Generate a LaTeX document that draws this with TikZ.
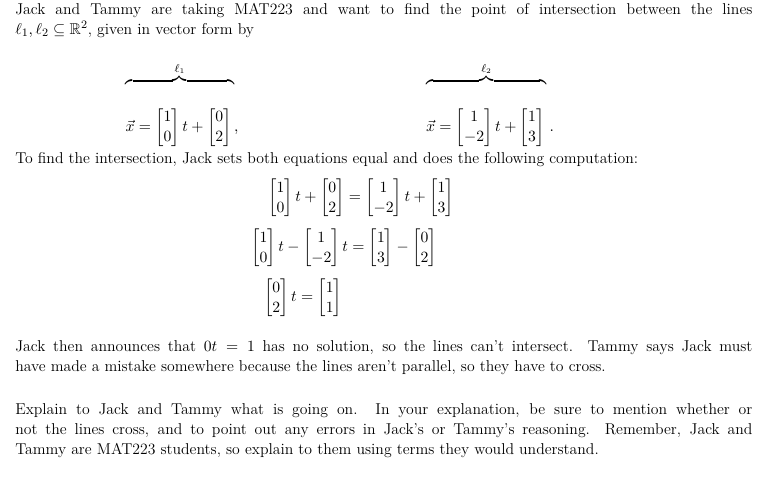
\documentclass[tikz,border=0pt]{standalone}
\usepackage{amsmath,amssymb}
\begin{document}
\begin{tikzpicture}[x=0.7pt,y=-0.7pt,
  para/.style={anchor=north west,text width=516pt,align=justify,inner sep=0pt,font=\fontsize{11}{14}\selectfont},
  eqn/.style={inner sep=0pt,font=\fontsize{11}{14}\selectfont}]
\useasboundingbox[fill=white] (0,0) rectangle (770,479);
\node[para] (p1) at (15,3) {Jack and Tammy are taking MAT223 and want to find the point of intersection between the lines\linebreak $\ell_1,\ell_2\subseteq\mathbb{R}^2$, given in vector form by};
\node[eqn,anchor=south] (d1) at (182,148) {$\overbrace{\vec{x}=\begin{bmatrix}1\\0\end{bmatrix}t+\begin{bmatrix}0\\2\end{bmatrix}\rule{0pt}{32pt}}^{\ell_1},$};
\node[eqn,anchor=south] (d2) at (490,148) {$\overbrace{\vec{x}=\begin{bmatrix}1\\-2\end{bmatrix}t+\begin{bmatrix}1\\3\end{bmatrix}\rule{0pt}{32pt}}^{\ell_2}.$};
\node[para] (p2) at (15,152) {To find the intersection, Jack sets both equations equal and does the following computation:};
\node[eqn] (e1) at (361,198) {$\begin{bmatrix}1\\0\end{bmatrix}t+\begin{bmatrix}0\\2\end{bmatrix}=\begin{bmatrix}1\\-2\end{bmatrix}t+\begin{bmatrix}1\\3\end{bmatrix}$};
\node[eqn] (e2) at (344,248) {$\begin{bmatrix}1\\0\end{bmatrix}t-\begin{bmatrix}1\\-2\end{bmatrix}t=\begin{bmatrix}1\\3\end{bmatrix}-\begin{bmatrix}0\\2\end{bmatrix}$};
\node[eqn] (e3) at (303,298) {$\begin{bmatrix}0\\2\end{bmatrix}t=\begin{bmatrix}1\\1\end{bmatrix}$};
\node[para] (p3) at (15,340) {Jack then announces that $0t=1$ has no solution, so the lines can't intersect. Tammy says Jack must\linebreak have made a mistake somewhere because the lines aren't parallel, so they have to cross.};
\node[para] (p4) at (15,403) {Explain to Jack and Tammy what is going on. In your explanation, be sure to mention whether or\linebreak not the lines cross, and to point out any errors in Jack's or Tammy's reasoning. Remember, Jack and\linebreak Tammy are MAT223 students, so explain to them using terms they would understand.};
\end{tikzpicture}
\end{document}
